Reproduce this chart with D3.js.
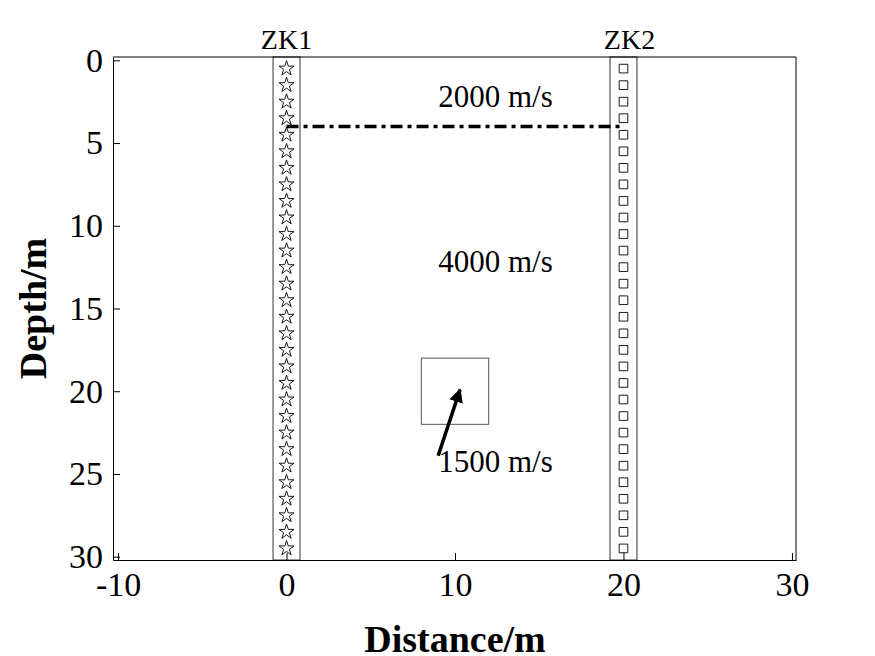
<!DOCTYPE html>
<html><head><meta charset="utf-8">
<script src="https://cdn.jsdelivr.net/npm/d3@7"></script>
<style>body{margin:0;background:#fff}text{font-family:"Liberation Serif","Times New Roman",serif}</style>
</head><body><div id="chart"></div>
<script>
const xTicks = [-10, 0, 10, 20, 30];
const yTicks = [0, 5, 10, 15, 20, 25, 30];
const receiverDepths = d3.range(0.5, 30, 1); // 0.5 .. 29.5
const boreholes = [{name: "ZK1", x: 0, marker: "star"}, {name: "ZK2", x: 20, marker: "square"}];
const interfaceLine = {x1: 0, x2: 20, depth: 4};
const anomaly = {x0: 8, x1: 12, y0: 18, y1: 22};
const arrow = {from: [9.0, 23.9], to: [10.3, 19.9]};
const labels = [
  {text: "2000 m/s", x: 12.4, y: 2.2},
  {text: "4000 m/s", x: 12.4, y: 12.2},
  {text: "1500 m/s", x: 12.4, y: 24.3}
];

const W = 875, H = 656;
const svg = d3.select("#chart").append("svg").attr("width", W).attr("height", H);
const x = d3.scaleLinear().domain([-10.3, 30.24]).range([113, 796]);
const y = d3.scaleLinear().domain([-0.2, 30.2]).range([57, 560]);

svg.append("defs").append("marker").attr("id", "ah")
  .attr("viewBox", "0 0 10 10").attr("refX", 9).attr("refY", 5)
  .attr("markerWidth", 4).attr("markerHeight", 4).attr("orient", "auto")
  .append("path").attr("d", "M0,0L10,5L0,10z").attr("fill", "#000");

// boreholes
boreholes.forEach(b => {
  svg.append("rect")
    .attr("x", x(b.x - 0.8)).attr("y", y(-0.2))
    .attr("width", x(b.x + 0.8) - x(b.x - 0.8)).attr("height", y(30.2) - y(-0.2))
    .attr("fill", "none").attr("stroke", "#333").attr("stroke-width", 1);
  svg.append("text").attr("x", x(b.x) + (b.x > 0 ? 6 : 0)).attr("y", 49).attr("text-anchor", "middle")
    .attr("font-size", 28).text(b.name);
  const sym = d3.symbol().type(b.marker === "star" ? d3.symbolStar : d3.symbolSquare)
    .size(b.marker === "star" ? 70 : 75);
  svg.selectAll(null).data(receiverDepths).enter().append("path")
    .attr("d", sym)
    .attr("transform", d => `translate(${x(b.x)},${y(d)})`)
    .attr("fill", "none").attr("stroke", "#000").attr("stroke-width", 0.9);
});

// interface
svg.append("line")
  .attr("x1", x(interfaceLine.x1)).attr("x2", x(interfaceLine.x2))
  .attr("y1", y(interfaceLine.depth)).attr("y2", y(interfaceLine.depth))
  .attr("stroke", "#000").attr("stroke-width", 3.5).attr("stroke-dasharray", "12,5,4,5");

// anomaly
svg.append("rect")
  .attr("x", x(anomaly.x0)).attr("y", y(anomaly.y0))
  .attr("width", x(anomaly.x1) - x(anomaly.x0)).attr("height", y(anomaly.y1) - y(anomaly.y0))
  .attr("fill", "none").attr("stroke", "#555").attr("stroke-width", 1);

labels.forEach(l => svg.append("text").attr("x", x(l.x)).attr("y", y(l.y) + 10)
  .attr("text-anchor", "middle").attr("font-size", 31).text(l.text));

svg.append("line")
  .attr("x1", x(arrow.from[0])).attr("y1", y(arrow.from[1]))
  .attr("x2", x(arrow.to[0])).attr("y2", y(arrow.to[1]))
  .attr("stroke", "#000").attr("stroke-width", 3.5).attr("marker-end", "url(#ah)");

// axes
const xb = svg.append("g").attr("transform", `translate(0,${y(30.2)})`)
  .call(d3.axisBottom(x).tickValues(xTicks).tickFormat(d => String(d).replace("\u2212", "-")).tickSize(-7).tickPadding(12).tickSizeOuter(0));
const yl = svg.append("g").attr("transform", `translate(${x(-10.3)},0)`)
  .call(d3.axisLeft(y).tickValues(yTicks).tickSize(-7).tickPadding(10).tickSizeOuter(0));
[xb, yl].forEach(g => {
  g.attr("font-size", 34);
  g.selectAll("text").attr("font-size", 34).attr("fill", "#000")
    .style("font-family", '"Liberation Serif",serif');
  g.select(".domain").attr("stroke", "#000");
});
svg.append("line").attr("x1", x(-10.3)).attr("x2", x(30.24)).attr("y1", y(-0.2)).attr("y2", y(-0.2)).attr("stroke", "#000");
svg.append("line").attr("x1", x(30.24)).attr("x2", x(30.24)).attr("y1", y(-0.2)).attr("y2", y(30.2)).attr("stroke", "#000");

svg.append("text").attr("x", x(10)).attr("y", 652).attr("text-anchor", "middle")
  .attr("font-size", 38).attr("font-weight", "bold").text("Distance/m");
svg.append("text").attr("transform", `translate(46,${y(15)}) rotate(-90)`)
  .attr("text-anchor", "middle").attr("font-size", 38).attr("font-weight", "bold").text("Depth/m");
</script></body></html>
